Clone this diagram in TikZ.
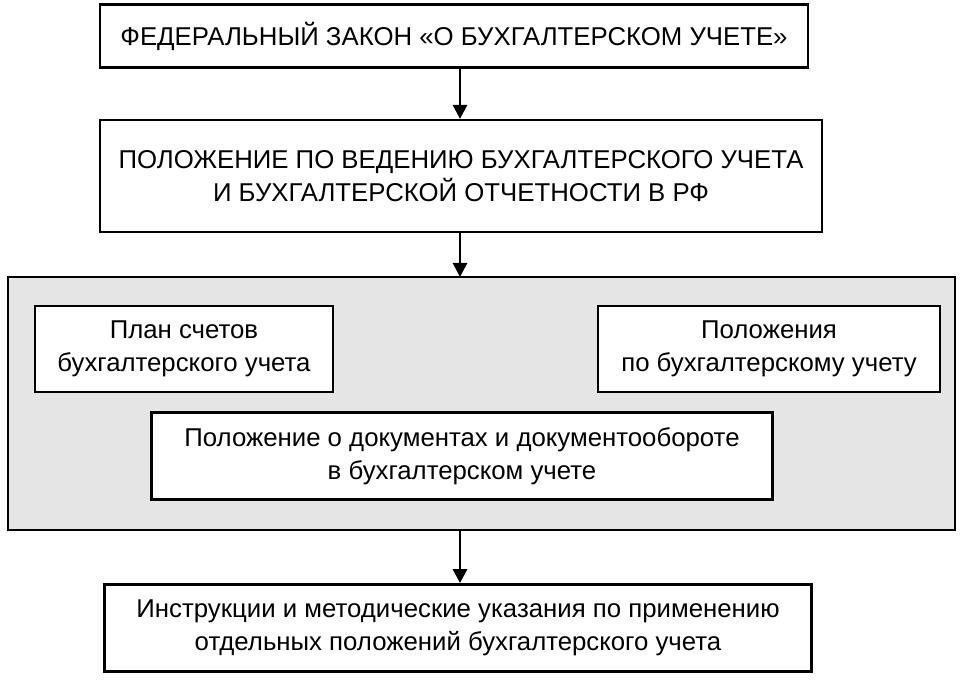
\documentclass[tikz,border=0pt]{standalone}
\usepackage{fontspec}
\setmainfont{Liberation Sans}
\usetikzlibrary{arrows.meta}
\tikzstyle{doc box}=[draw,line width=2.4pt,fill=white,align=center,
    inner sep=0pt,font=\fontsize{22}{28}\selectfont]
\tikzstyle{link}=[line width=2.4pt,-{Triangle[length=12pt,width=12pt]}]
\newcommand{\docbox}[6][]{
    \node[doc box,minimum width=#4*0.03cm,minimum height=#5*0.03cm,#1]
        at (#2) (#3) {#6};
}
\begin{document}
\begin{tikzpicture}[x=0.03cm,y=-0.03cm]
    \useasboundingbox (0,0) rectangle (965,679);
    \draw[line width=2pt,fill=black!10] (8,277) rectangle (955,530);
    \docbox{454,36}{law}{708}{63}{ФЕДЕРАЛЬНЫЙ ЗАКОН «О БУХГАЛТЕРСКОМ УЧЕТЕ»}
    \docbox{461,176}{rules}{722}{112}{ПОЛОЖЕНИЕ ПО ВЕДЕНИЮ БУХГАЛТЕРСКОГО УЧЕТА\\И БУХГАЛТЕРСКОЙ ОТЧЕТНОСТИ В РФ}
    \docbox{184,349}{plan}{298}{86}{План счетов\\бухгалтерского учета}
    \docbox{769,349}{pbu}{342}{86}{Положения\\по бухгалтерскому учету}
    \docbox{462,456}{docs}{621}{87}{Положение о документах и документообороте\\в бухгалтерском учете}
    \docbox{458,628}{instr}{707}{87}{Инструкции и методические указания по применению\\отдельных положений бухгалтерского учета}
    \coordinate (grouptop) at (460,277);
    \coordinate (groupbot) at (460,530);
    \draw[link] (law.south -| grouptop) -- ++(0,50);
    \draw[link] (rules.south -| grouptop) -- (grouptop);
    \draw[link] (groupbot) -- (instr.north -| groupbot);
\end{tikzpicture}
\end{document}
